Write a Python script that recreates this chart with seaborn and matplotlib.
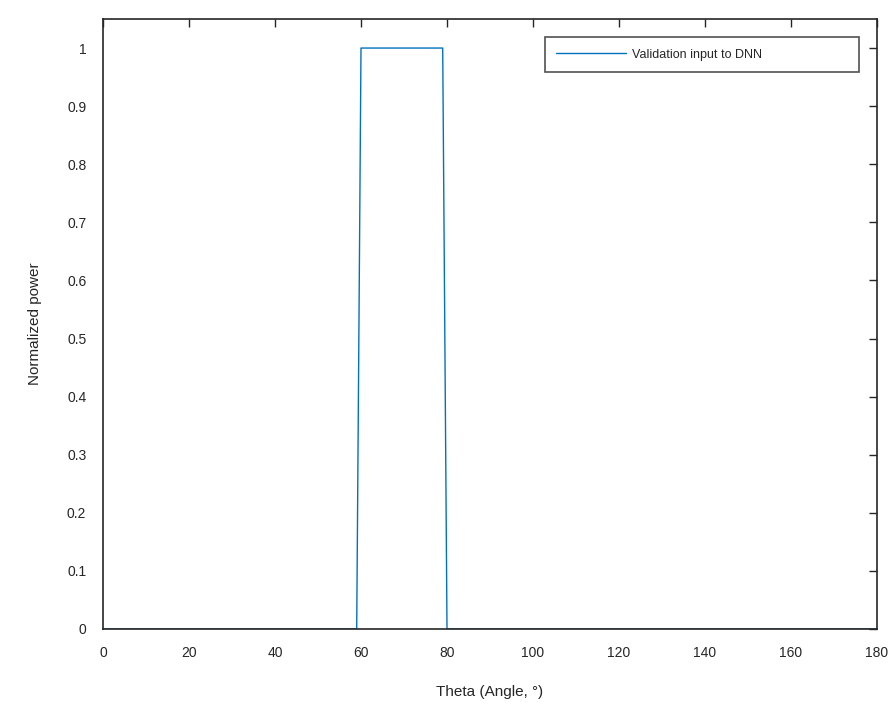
import numpy as np
import pandas as pd
import seaborn as sns
import matplotlib
matplotlib.use("Agg")
import matplotlib.pyplot as plt

theta = np.arange(0, 181, 1)
power = np.where((theta >= 60) & (theta <= 79), 1.0, 0.0)
series_label = "Validation input to DNN"
df = pd.DataFrame({"theta": theta, "power": power})

sns.set_theme(style="white")
plt.rcParams['font.family'] = ['Liberation Sans', 'DejaVu Sans']
fig = plt.figure(figsize=(8.94, 7.10), dpi=100)
ax = fig.add_axes([103/894, 1-629/710, (877-103)/894, (629-19)/710])
sns.lineplot(data=df, x="theta", y="power", ax=ax, color="#0072BD", linewidth=1.0, label=series_label)
ax.set_xlim(0, 180)
ax.set_ylim(-0.0, 1.05)
ax.set_xticks(np.arange(0, 181, 20))
ax.set_yticks(np.arange(0, 1.01, 0.1))
ax.set_yticklabels(["0", "0.1", "0.2", "0.3", "0.4", "0.5", "0.6", "0.7", "0.8", "0.9", "1"])
ax.tick_params(direction="in", length=6, width=1, top=True, right=True, labelsize=10, colors="#262626", pad=12)
for s in ax.spines.values():
    s.set_color("#262626"); s.set_linewidth(1.2); s.set_visible(True)
ax.set_xlabel("Theta (Angle, °)", fontsize=11, color="#262626", labelpad=18)
ax.set_ylabel("Normalized power", fontsize=11, color="#262626", labelpad=18)
leg = ax.legend(loc="upper left", bbox_to_anchor=(0.571, 0.97, 0.406, 0.0), mode="expand",
                fontsize=9, frameon=True, fancybox=False, borderaxespad=0,
                edgecolor="#262626", handlelength=5.6, handletextpad=0.5, borderpad=0.9)
leg.get_frame().set_linewidth(1.2)
fig.savefig("out.png", dpi=100)
